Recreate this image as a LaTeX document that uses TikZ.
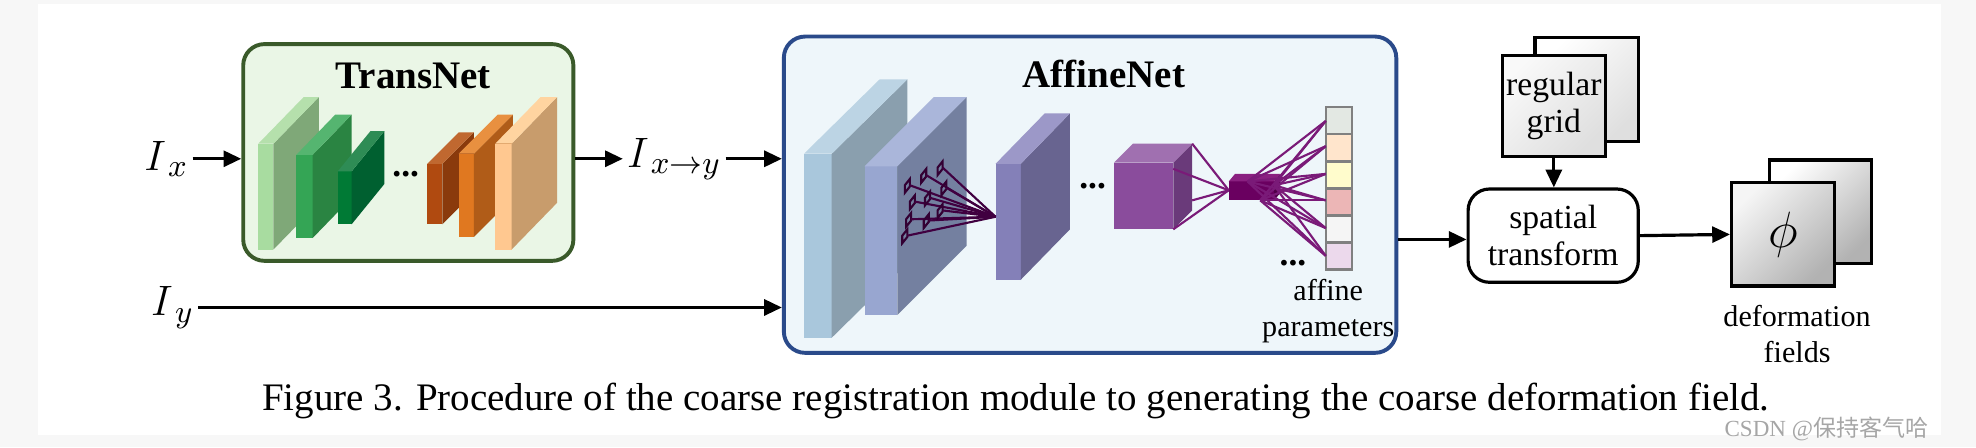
\documentclass[tikz,border=0pt]{standalone}
\usepackage{fontspec}
\setmainfont{Liberation Serif}
\usetikzlibrary{arrows.meta,fit}
\definecolor{ga}{HTML}{A8DCA0}\definecolor{gas}{HTML}{7FA878}\definecolor{gat}{HTML}{B5E0AC}
\definecolor{gb}{HTML}{34A555}\definecolor{gbs}{HTML}{2A8442}\definecolor{gbt}{HTML}{55B570}
\definecolor{gc}{HTML}{007A35}\definecolor{gcs}{HTML}{006030}\definecolor{gct}{HTML}{2E8C55}
\definecolor{oa}{HTML}{B04A10}\definecolor{oas}{HTML}{8A3A0C}\definecolor{oat}{HTML}{C06830}
\definecolor{ob}{HTML}{E07820}\definecolor{obs}{HTML}{B05C18}\definecolor{obt}{HTML}{E89040}
\definecolor{oc}{HTML}{FFC890}\definecolor{ocs}{HTML}{C89C6C}\definecolor{oct}{HTML}{FFD4A0}
\definecolor{aa}{HTML}{A9C7DC}\definecolor{aas}{HTML}{8A9FAE}\definecolor{aat}{HTML}{BCD4E4}
\definecolor{ab}{HTML}{98A6D0}\definecolor{abs}{HTML}{7480A0}\definecolor{abt}{HTML}{AAB6DA}
\definecolor{ac}{HTML}{8480B8}\definecolor{acs}{HTML}{686490}\definecolor{act}{HTML}{9C98C8}
\definecolor{ad}{HTML}{8A4C9C}\definecolor{ads}{HTML}{6A3A7A}\definecolor{adt}{HTML}{A070B0}
\definecolor{ae}{HTML}{6A0060}\definecolor{aes}{HTML}{500048}\definecolor{aet}{HTML}{8A2080}
\definecolor{pl}{HTML}{7A1A78}
\definecolor{tbord}{HTML}{3A5A2A}\definecolor{tfill}{HTML}{EAF6E6}
\definecolor{abord}{HTML}{2A4A8A}\definecolor{afill}{HTML}{EEF6FA}
\newcommand\myslab[9]{%
  \fill[#7] (#1,#3) rectangle (#2,#4);
  \fill[#8] (#2,#3) -- ({#2+#5},{#3+#6}) -- ({#2+#5},{#4+#6}) -- (#2,#4) -- cycle;
  \fill[#9] (#1,#3) -- ({#1+#5},{#3+#6}) -- ({#2+#5},{#3+#6}) -- (#2,#3) -- cycle;}
\begin{document}
\begin{tikzpicture}[x=0.0125cm,y=-0.0125cm,
  arr/.style={-{Triangle[length=5pt,width=4.5pt]},line width=0.9pt},
  netbox/.style={inner sep=0pt,rounded corners=6pt,line width=1.1pt},
  card/.style={inner sep=0pt,draw,line width=0.9pt},
  lbl/.style={font=\fontsize{9.5}{10.5}\selectfont,align=center},
  mathl/.style={font=\fontsize{12.5}{14}\selectfont,inner sep=1pt},
  pline/.style={draw=pl,line width=0.6pt},
  kline/.style={draw=violet!50!black,line width=0.6pt}]
\useasboundingbox (0,0) rectangle (1568,355);
\fill[gray!6] (0,0) rectangle (1568,355);
\fill[white] (30,3) rectangle (1540,345);
% TransNet
\node[netbox,fit={(193,35)(455,207)},draw=tbord,fill=tfill] (trans) {};
\node[font=\bfseries\fontsize{11}{12}\selectfont] (tt) at (328,60) {TransNet};
\myslab{205}{217}{114}{198}{36}{-37}{ga}{gas}{gat}
\myslab{235}{248}{123}{189}{31}{-32}{gb}{gbs}{gbt}
\myslab{268}{279}{136}{178}{26}{-32}{gc}{gcs}{gct}
\node[font=\bfseries] (d1) at (322,138) {...};
\myslab{339}{351}{130}{178}{25}{-25}{oa}{oas}{oat}
\myslab{364}{376}{122}{188}{31}{-31}{ob}{obs}{obt}
\myslab{393}{406}{114}{198}{36}{-37}{oc}{ocs}{oct}
% inputs
\node[mathl] (Ix) at (132,126) {$I_{\,x}$};
\node[mathl] (Ixy) at (535,126) {$I_{\,x\to y}$};
\node[mathl] (Iy) at (137,244) {$I_{\,y}$};
% AffineNet
\node[netbox,fit={(622,29)(1108,280)},draw=abord,fill=afill] (aff) {};
\node[font=\bfseries\fontsize{11}{12}\selectfont] (at) at (876,59) {AffineNet};
\myslab{638}{660}{122}{268}{60}{-59}{aa}{aas}{aat}
\myslab{686}{712}{132}{250}{55}{-55}{ab}{abs}{abt}
\myslab{790}{810}{130}{222}{39}{-40}{ac}{acs}{act}
\node[font=\bfseries] (d2) at (867,148) {...};
\myslab{884}{931}{129}{182}{15}{-15}{ad}{ads}{adt}
\myslab{975}{1011}{144}{159}{5}{-6}{ae}{aes}{aet}
% kernels
\foreach \p in {(718,150),(722,163),(719,177),(716,190),(731,142),(734,160),(733,178),(744,136),(747,152),(744,170)}{
  \draw[violet!40!black,line width=0.6pt] \p ++(0,3) -- ++(4,-5) -- ++(0,-6) -- ++(-4,5) -- cycle;
  \draw[kline] \p ++(4,-3) -- (790,172);}
% cube to dense
\foreach \a in {(946,114),(931,134),(931,182),(946,159)}{\draw[pline] \a -- (975,151);}
% params
\foreach \c [count=\i from 0] in {green!10!gray!20!white,orange!20!white,yellow!20!white,red!25!white!85!gray,gray!8,violet!15!white}{
  \fill[\c,draw=gray,line width=0.7pt] (1052,{85+21.5*\i}) rectangle (1073,{85+21.5*(\i+1)});}
\foreach \s in {(990,144),(1011,147),(1000,159)}{
  \foreach \t in {96,116,138,159,181,203}{\draw[pline] \s -- (1052,\t);}}
\node[font=\bfseries] (d3) at (1026,209) {...};
\node[lbl,font=\fontsize{8.5}{10}\selectfont] (ap) at (1054,247) {affine\\parameters};
% right part
\node[card,fit={(1218,30)(1300,112)},left color=white,right color=gray!25,shading angle=45] (gbk) {};
\node[card,fit={(1192,44)(1274,124)},left color=gray!5,right color=gray!25,shading angle=45] (gf) {};
\node[lbl] at (gf.center) {regular\\grid};
\node[card,rounded corners=6pt,fit={(1165,150)(1300,224)},fill=white] (sp) {};
\node[lbl] at (sp.center) {spatial\\transform};
\node[card,fit={(1404,127)(1485,209)},left color=white,right color=gray!60,shading angle=45] (pb) {};
\node[card,fit={(1374,145)(1456,227)},left color=gray!8,right color=gray!60,shading angle=45] (pf) {};
\node[font=\fontsize{14}{15}\selectfont] at (pf.center) {$\phi$};
\node[lbl,font=\fontsize{8.5}{10}\selectfont] (df) at (1426,265) {deformation\\fields};
% arrows
\draw[arr] (Ix.east) -- (trans.west |- Ix.east);
\draw[arr] (trans.east |- Ixy.west) -- (Ixy.west);
\draw[arr] (Ixy.east) -- (aff.west |- Ixy.east);
\draw[arr] (Iy.east) -- (aff.west |- Iy.east);
\draw[arr] (aff.east |- 0,190) -- (sp.west |- 0,190);
\draw[arr] (gf.south) -- (sp.north -| gf.south);
\draw[arr] (sp.east) -- (pf.west);
% caption
\node[font=\fontsize{11}{13}\selectfont] (cap) at (806,318) {Figure 3. Procedure of the coarse registration module to generating the coarse deformation field.};
\node[font=\fontsize{6.5}{7}\selectfont,text=gray!70,anchor=east] (wm) at (1540,340) {CSDN @\fontspec{Noto Sans CJK SC}保持客气哈};
\end{tikzpicture}
\end{document}
